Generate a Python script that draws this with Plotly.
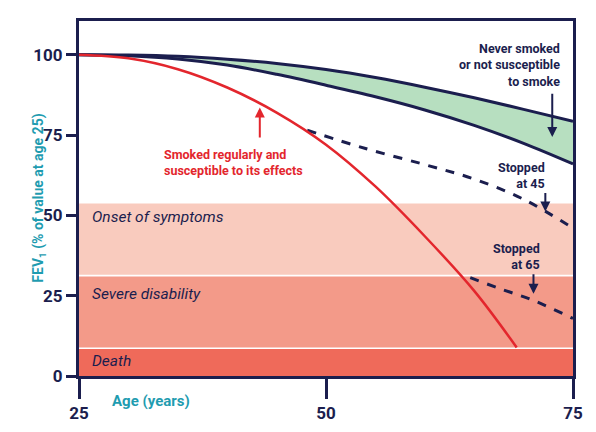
import plotly.graph_objects as go

# Curvas de FEV1 (% del valor a los 25 años) frente a la edad
edad_nunca = [25, 30, 35, 40, 45, 50, 55, 60, 65, 70, 75]
nunca_sup = [100, 99.9, 99.5, 98.6, 97.3, 95.4, 92.9, 89.9, 86.6, 83.0, 79.3]
nunca_inf = [100, 99.7, 98.7, 96.8, 93.9, 90.5, 86.9, 82.8, 78.0, 72.4, 66.0]

edad_fumador = [25, 30, 35, 40, 45, 50, 55, 60, 65, 69.3]
fev_fumador = [100, 98.9, 95.5, 89.8, 82.0, 72.0, 59.0, 43.5, 26.5, 8.9]

edad_dejo45 = [48.1, 54, 60, 65, 70, 75]
fev_dejo45 = [76.5, 70.8, 65.8, 61.3, 55.0, 46.0]

edad_dejo65 = [64.6, 67.5, 71.0, 75]
fev_dejo65 = [30.6, 27.3, 23.5, 17.9]

# Bandas de gravedad
bandas = ["Onset of symptoms", "Severe disability", "Death"]
banda_min = [31.5, 8.9, 0]
banda_max = [53.7, 31.0, 8.4]
banda_color = ["#f9cbbe", "#f39a89", "#ef6a5a"]

NAVY = "#1b1e4e"
ROJO = "#e3262d"
TEAL = "#1f9cb0"
FUENTE = "Roboto"

fig = go.Figure()

for b0, b1, col in zip(banda_min, banda_max, banda_color):
    fig.add_shape(type="rect", xref="x", yref="y", x0=25, x1=75, y0=b0, y1=b1,
                  fillcolor=col, line_width=0, layer="below")

# banda verde de los que nunca fumaron
fig.add_trace(go.Scatter(x=edad_nunca, y=nunca_inf, mode="lines",
                         line=dict(color=NAVY, width=3, shape="spline")))
fig.add_trace(go.Scatter(x=edad_nunca, y=nunca_sup, mode="lines", fill="tonexty",
                         fillcolor="#b7dfc0", line=dict(color=NAVY, width=3, shape="spline")))

fig.add_trace(go.Scatter(x=edad_dejo45, y=fev_dejo45, mode="lines",
                         line=dict(color=NAVY, width=3, dash="dash", shape="spline")))
fig.add_trace(go.Scatter(x=edad_dejo65, y=fev_dejo65, mode="lines",
                         line=dict(color=NAVY, width=3, dash="dash", shape="spline")))
fig.add_trace(go.Scatter(x=edad_fumador, y=fev_fumador, mode="lines",
                         line=dict(color=ROJO, width=2.5, shape="spline")))

# etiquetas de las bandas
for nombre, yv in zip(bandas, [49.4, 25.6, 4.6]):
    fig.add_annotation(x=26.1, y=yv, text=nombre, showarrow=False, xanchor="left",
                       font=dict(family=FUENTE, size=15.5, color=NAVY, style="italic"))

# textos con flecha
textos = [
    ("Never smoked<br>or not susceptible<br>to smoke", 73.9, 96.9, NAVY, "right"),
    ("Stopped<br>at 45", 72.4, 62.5, NAVY, "right"),
    ("Stopped<br>at 65", 71.9, 37.3, NAVY, "right"),
    ("Smoked regularly and<br>susceptible to its effects", 33.4, 66.4, ROJO, "left"),
]
for txt, xv, yv, col, anc in textos:
    fig.add_annotation(x=xv, y=yv, text=txt, showarrow=False, xanchor=anc, align=anc,
                       font=dict(family=FUENTE, size=12.5, color=col, weight="bold"))

flechas = [(72.9, 88.3, 74.4, NAVY), (72.2, 57.4, 51.2, NAVY),
           (71.0, 32.1, 25.6, NAVY), (43.3, 73.8, 83.6, ROJO)]
for xv, y_ini, y_fin, col in flechas:
    fig.add_annotation(x=xv, y=y_fin, ax=xv, ay=y_ini, axref="x", ayref="y", text="",
                       showarrow=True, arrowhead=2, arrowsize=1, arrowwidth=2, arrowcolor=col)

# títulos de ejes
fig.add_annotation(xref="paper", yref="paper", x=-0.105, y=0.5, textangle=-90,
                   text="FEV<sub>1</sub> (% of value at age 25)", showarrow=False,
                   font=dict(family=FUENTE, size=14, color=TEAL, weight="bold"))
fig.add_annotation(xref="paper", yref="paper", x=0.063, y=-0.10, xanchor="left",
                   text="Age (years)", showarrow=False,
                   font=dict(family=FUENTE, size=15, color=TEAL, weight="bold"))

fig.update_xaxes(range=[25, 75], tickvals=[25, 50, 75], ticks="outside", ticklen=20,
                 tickwidth=3, tickcolor=NAVY, showline=True, linecolor=NAVY, linewidth=3,
                 mirror=True, showgrid=False, zeroline=False,
                 tickfont=dict(family=FUENTE, size=17, color=NAVY, weight="bold"))
fig.update_yaxes(range=[0, 110.5], tickvals=[0, 25, 50, 75, 100], ticks="outside", ticklen=10,
                 tickwidth=3, tickcolor=NAVY, showline=True, linecolor=NAVY, linewidth=3,
                 mirror=True, showgrid=False, zeroline=False,
                 tickfont=dict(family=FUENTE, size=17, color=NAVY, weight="bold"))

# la página añade 8 px de margen, así que se compensa aquí
fig.update_layout(width=596, height=432, margin=dict(l=71, r=31, t=10, b=64),
                  plot_bgcolor="white", paper_bgcolor="white", showlegend=False)

fig.write_html("out.html")
